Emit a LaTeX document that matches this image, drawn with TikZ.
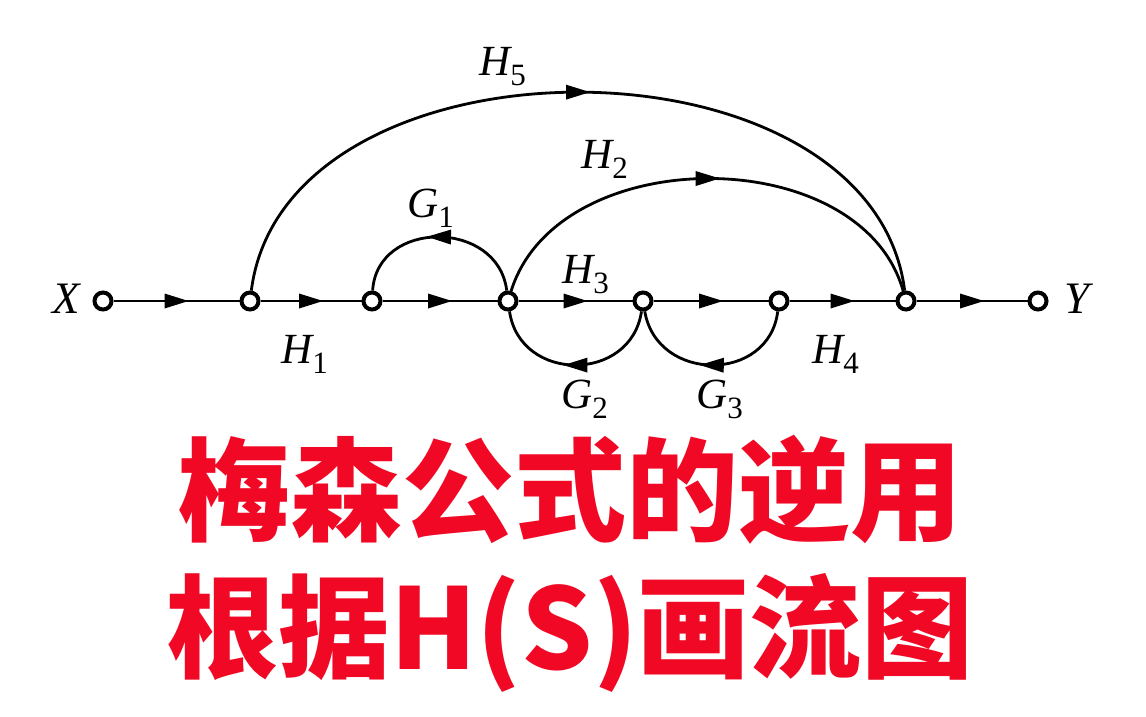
\documentclass[tikz,border=0pt]{standalone}
\usepackage{fontspec}
\newfontfamily\tms{Liberation Serif}
\newfontfamily\cjk{Noto Sans CJK SC}
\usetikzlibrary{decorations.markings}
\definecolor{titlered}{RGB}{240,8,36}
\newcommand\glab[2]{{\fontsize{43}{43}\selectfont\tms\itshape #1}\raisebox{-10.5pt}{\fontsize{31}{31}\selectfont\tms #2}}
\tikzset{
  sig/.style={circle,draw,line width=4pt,fill=white,minimum size=17pt,inner sep=0pt},
  br/.style={line width=2.8pt},
  midtip/.style={br,postaction={decorate},decoration={markings,
    mark=at position 0.5 with {\fill (12pt,0pt) -- (-12pt,7.5pt) -- (-12pt,-7.5pt) -- cycle;}}},
  lab/.style={anchor=base west,inner sep=0pt},
  ttl/.style={anchor=base,inner sep=0pt,text=titlered,font=\cjk\bfseries\fontsize{112}{112}\selectfont},
}
\begin{document}
\begin{tikzpicture}[x=1pt,y=-1pt]
\useasboundingbox[fill=white] (0,0) rectangle (1146,716);
% signal nodes
\node[sig] (x)  at (103,301) {};
\node[sig] (n2) at (250,301) {};
\node[sig] (n3) at (372,301) {};
\node[sig] (n4) at (508,301) {};
\node[sig] (n5) at (643,301) {};
\node[sig] (n6) at (779,301) {};
\node[sig] (n7) at (906,301) {};
\node[sig] (y)  at (1038,301) {};
% forward branches
\draw[midtip] (x) -- (n2);
\draw[midtip] (n2) -- (n3);
\draw[midtip] (n3) -- (n4);
\draw[midtip] (n4) -- (n5);
\draw[midtip] (n5) -- (n6);
\draw[midtip] (n6) -- (n7);
\draw[midtip] (n7) -- (y);
\draw[midtip] (n2) .. controls +(35,-275) and +(-35,-275) .. (n7);
\draw[midtip] (n4) .. controls +(50,-160) and +(-45,-160) .. (n7);
% feedback loops
\draw[midtip] (n4) .. controls +(-10,-82) and +(5,-82) .. (n3);
\draw[midtip] (n5) .. controls +(-12,82) and +(12,82) .. (n4);
\draw[midtip] (n6) .. controls +(-10,82) and +(14,82) .. (n5);
% labels
\node[lab] (lx) at (52,313) {\fontsize{45}{45}\selectfont\tms\itshape X};
\node[lab] (ly) at (1064,313) {\fontsize{45}{45}\selectfont\tms\itshape Y};
\node[lab] (lh1) at (281,363) {\glab{H}{1}};
\node[lab] (lh5) at (479,75) {\glab{H}{5}};
\node[lab] (lg1) at (407,217) {\glab{G}{1}};
\node[lab] (lh2) at (581,168) {\glab{H}{2}};
\node[lab] (lh3) at (562,283) {\glab{H}{3}};
\node[lab] (lg2) at (561,408) {\glab{G}{2}};
\node[lab] (lg3) at (696,408) {\glab{G}{3}};
\node[lab] (lh4) at (812,363) {\glab{H}{4}};
% title
\node[ttl] (t1) at (570,532) {梅森公式的逆用};
\node[ttl] (t2) at (570,669) {根据H(S)画流图};
\end{tikzpicture}
\end{document}
